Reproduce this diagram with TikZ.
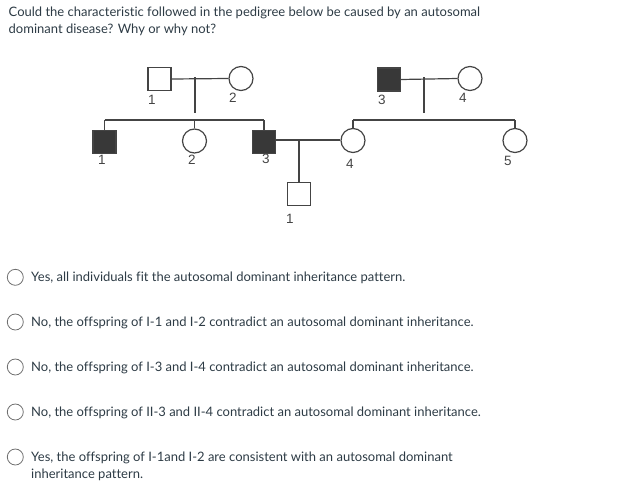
\documentclass[tikz,border=0pt]{standalone}
\usepackage{fontspec}
\setmainfont{Lato}[Ligatures=NoCommon]
\newfontfamily\labfont{Liberation Sans}
\definecolor{txt}{HTML}{2D3B45}
\definecolor{ln}{HTML}{444444}
\definecolor{fillc}{HTML}{383838}
\definecolor{radio}{HTML}{707070}
\begin{document}
\begin{tikzpicture}[x=1pt,y=-1pt,
  male/.style={draw=ln,line width=1.2pt,rectangle,minimum size=23pt,inner sep=0pt},
  female/.style={draw=ln,line width=1.2pt,circle,minimum size=24pt,inner sep=0pt},
  aff/.style={fill=fillc},
  rel/.style={draw=ln,line width=1.2pt},
  lab/.style={font=\labfont\fontsize{13.5}{15}\selectfont,text=ln,inner sep=0pt},
  q/.style={anchor=base west,inner sep=0pt,font=\fontsize{13}{16}\selectfont,text=txt,align=left},
  rb/.style={draw=radio,line width=0.8pt,circle,minimum size=16pt,inner sep=0pt}]
\useasboundingbox (0,0) rectangle (625,496);
% question
\node[q] (t1) at (8.5,16.7) {Could the characteristic followed in the pedigree below be caused by an autosomal};
\node[q] (t2) at (8.5,33.5) {dominant disease? Why or why not?};
% generation I
\node[male] (I1) at (159.5,79) {};
\node[female] (I2) at (241,78.5) {};
\node[male,aff] (I3) at (388.7,79.5) {};
\node[female] (I4) at (470,78.5) {};
% generation II
\node[male,aff] (II1) at (104.5,142) {};
\node[female] (II2) at (194.5,141) {};
\node[male,aff] (II3) at (264,142) {};
\node[female] (II4) at (353,140.5) {};
\node[female] (II5) at (515,140.5) {};
% generation III
\node[male] (III1) at (299,193.7) {};
% marriages
\draw[rel] (I1.east) -- (I2.west);
\draw[rel] (I3.east) -- (I4.west);
\coordinate (m3) at (299,140);
\draw[rel] (II3.east |- m3) -- (II4.west |- m3);
% descent lines
\coordinate (d1) at (195,113);
\coordinate (d2) at (424,113);
\draw[rel] (195,77.3) -- (d1);
\draw[rel] (424,77.3) -- (d2);
\coordinate (s1) at (195,120);
\coordinate (s2) at (424,120);
\draw[rel] (II1.north |- s1) -- (II3.north |- s1);
\draw[rel] (II1.north |- s1) -- (II1.north);
\draw[rel] (II2.north |- s1) -- (II2.north);
\draw[rel] (II3.north |- s1) -- (II3.north);
\draw[rel] (II4.north |- s2) -- (II5.north |- s2);
\draw[rel] (II4.north |- s2) -- (II4.north);
\draw[rel] (II5.north |- s2) -- (II5.north);
\draw[rel] (m3) -- (III1.north);
% labels
\node[lab] (lI1) at (152,100) {1};
\node[lab] (lI2) at (233,98) {2};
\node[lab] (lI3) at (382,100) {3};
\node[lab] (lI4) at (463,98) {4};
\node[lab] (lII1) at (102,160) {1};
\node[lab] (lII2) at (192,160) {2};
\node[lab] (lII3) at (266,159) {3};
\node[lab] (lII4) at (350,164) {4};
\node[lab] (lII5) at (508,161) {5};
\node[lab] (lIII1) at (290,219) {1};
% answers
\node[rb] (r1) at (15.3,277.3) {};
\node[rb] (r2) at (15.3,322) {};
\node[rb] (r3) at (15.3,367) {};
\node[rb] (r4) at (15.3,412) {};
\node[rb] (r5) at (15.3,457) {};
\node[q] (a1) at (31,281.7) {Yes, all individuals fit the autosomal dominant inheritance pattern.};
\node[q] (a2) at (31,326.5) {No, the offspring of I-1 and I-2 contradict an autosomal dominant inheritance.};
\node[q] (a3) at (31,371.5) {No, the offspring of I-3 and I-4 contradict an autosomal dominant inheritance.};
\node[q] (a4) at (31,416.5) {No, the offspring of II-3 and II-4 contradict an autosomal dominant inheritance.};
\node[q] (a5) at (31,461.3) {Yes, the offspring of I-1and I-2 are consistent with an autosomal dominant};
\node[q] (a6) at (31,478.3) {inheritance pattern.};
\end{tikzpicture}
\end{document}
